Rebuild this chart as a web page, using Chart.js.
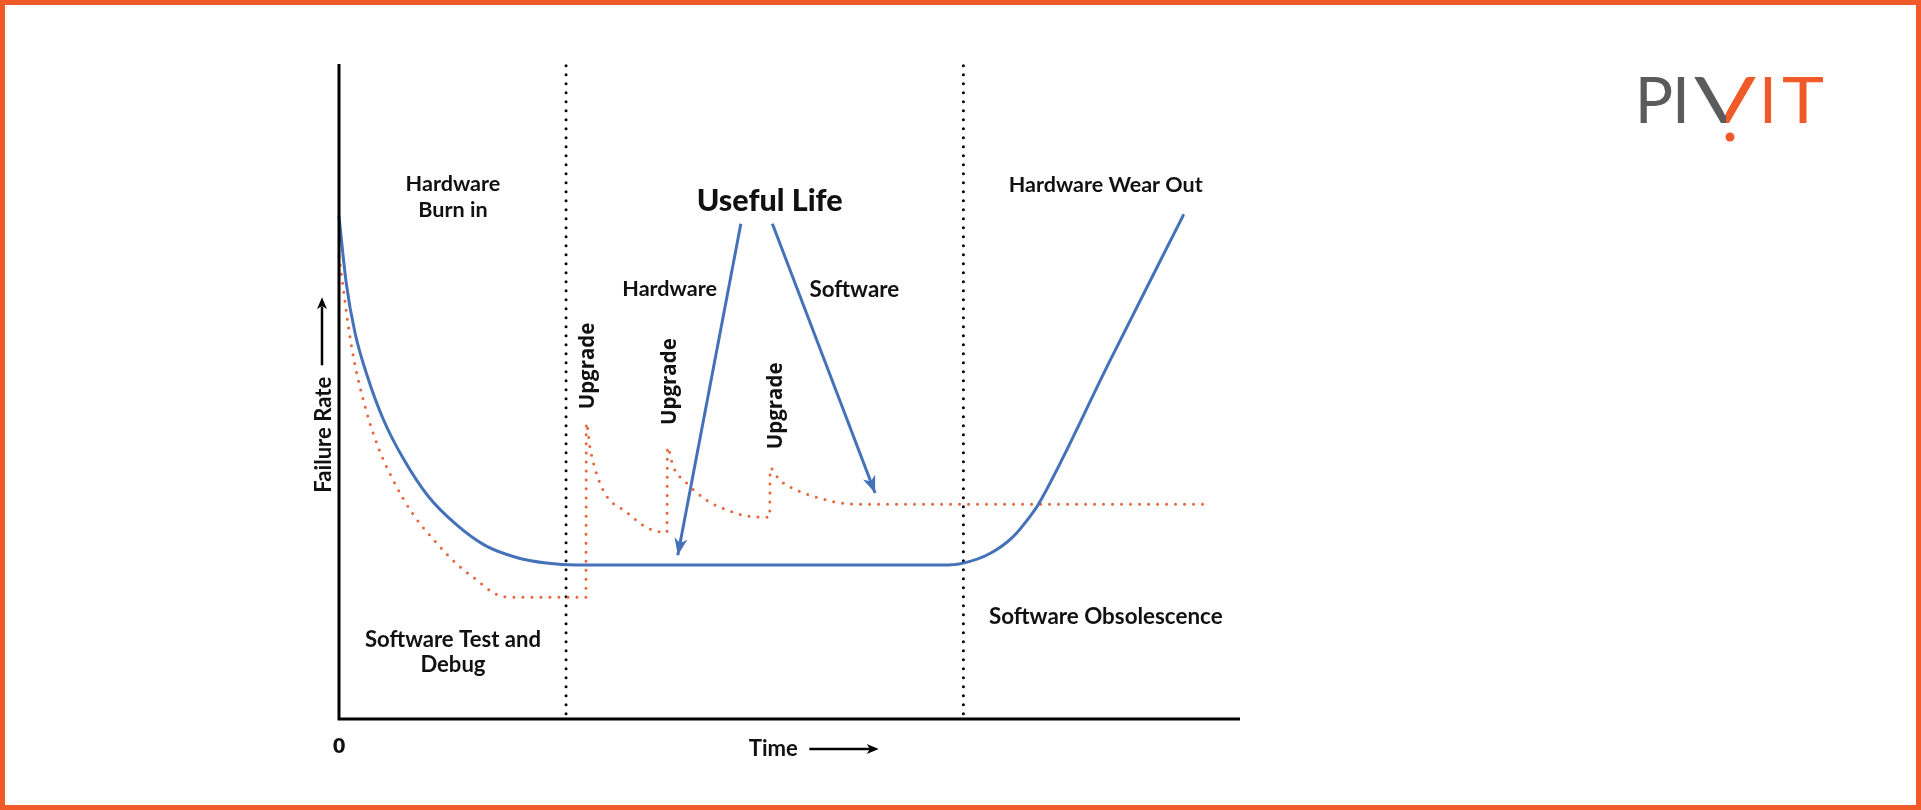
<!DOCTYPE html>
<html>
<head>
<meta charset="utf-8">
<title>Hardware vs Software Failure Rate</title>
<script src="https://cdn.jsdelivr.net/npm/chart.js@4.4.0/dist/chart.umd.min.js"></script>
<style>
  html, body { margin: 0; padding: 0; background: #fff; }
  #wrap { width: 1921px; height: 810px; }
</style>
</head>
<body>
<div id="wrap"><canvas id="bathtubChart" width="1921" height="810"></canvas></div>
<script>
// time runs 0..100 along the x axis, failure rate 0..100 up the y axis

// hardware failure rate (bathtub curve)
const hardwareTime = [0, 0.82, 1.77, 3.13, 4.9, 7.2, 9.9, 13.0, 16.2, 19.6, 23.0, 26.4,
  67.0, 69.3, 72.3, 74.8, 77.0, 77.6, 85.6, 93.7];
const hardwareRate = [76.7, 66.4, 59.0, 52.4, 45.8, 39.6, 34.0, 29.7, 26.5, 24.7, 23.8, 23.5,
  23.5, 23.8, 25.3, 27.8, 31.5, 32.7, 54.8, 76.9];

// software failure rate (with upgrade spikes)
const softwareTime = [0, 1.4, 3.1, 4.5, 6.0, 8.1, 11.2, 13.2, 15.3, 17.0, 18.2, 19.5, 27.4,
  27.45, 27.9, 29.3, 32.0, 34.2, 36.4,
  36.45, 37.1, 38.6, 40.8, 43.1, 45.3, 47.8,
  47.85, 48.9, 51.2, 53.4, 55.6, 58.0, 95.9];
const softwareRate = [70.6, 56.8, 46.7, 41.0, 36.5, 31.5, 26.3, 23.5, 21.2, 19.4, 18.7, 18.6, 18.6,
  45.2, 41.1, 35.0, 31.5, 29.2, 28.5,
  41.5, 38.5, 36.0, 33.4, 31.9, 31.0, 30.8,
  38.3, 36.5, 34.7, 33.7, 33.0, 32.8, 32.8];

// phase boundaries (dotted verticals)
const phaseBoundaries = [25.2, 69.3];
const phaseLineSpan = [0.8, 100];

// "Useful Life" pointers: start time, start rate, end time, end rate
const hardwarePointer = [44.6, 75.6, 37.6, 25.0];
const softwarePointer = [48.1, 75.6, 59.5, 34.5];

const BLUE = '#4571b9';
const ORANGE = '#e8643a';
const BRAND = '#f05a28';

const toPoints = (xs, ys) => xs.map((v, i) => ({ x: v, y: ys[i] }));

// text notes placed in data coordinates
const notes = [
  { lines: ['Hardware', 'Burn in'], x: 12.65, y: 79.7, width: 95, gap: 26, weight: 700, family: 'Lato' },
  { lines: ['Useful Life'], x: 47.8, y: 79.0, width: 146, gap: 0, weight: 900, family: 'Lato' },
  { lines: ['Hardware'], x: 36.7, y: 65.6, width: 95, gap: 0, weight: 700, family: 'Lato' },
  { lines: ['Software'], x: 57.2, y: 65.6, width: 90, gap: 0, weight: 700, family: 'Lato' },
  { lines: ['Hardware Wear Out'], x: 85.1, y: 81.5, width: 194, gap: 0, weight: 700, family: 'Lato' },
  { lines: ['Software Obsolescence'], x: 85.1, y: 15.6, width: 234, gap: 0, weight: 700, family: 'Lato' },
  { lines: ['Software Test and', 'Debug'], x: 12.65, y: 10.2, width: 176, gap: 25, weight: 700, family: 'Lato' }
];
const upgradeNotes = [
  { x: 27.6, y: 53.9 },
  { x: 36.7, y: 51.5 },
  { x: 48.5, y: 47.8 }
];

function fitFont(ctx, text, width, weight, family) {
  ctx.font = `${weight} 100px ${family}`;
  const size = 100 * width / ctx.measureText(text).width;
  return `${weight} ${size.toFixed(1)}px ${family}`;
}

function arrowHead(ctx, fx, fy, tx, ty, len, half, color) {
  const a = Math.atan2(ty - fy, tx - fx);
  ctx.save();
  ctx.translate(tx, ty);
  ctx.rotate(a);
  ctx.beginPath();
  ctx.moveTo(0, 0);
  ctx.lineTo(-len, -half);
  ctx.lineTo(-len * 0.72, 0);
  ctx.lineTo(-len, half);
  ctx.closePath();
  ctx.fillStyle = color;
  ctx.fill();
  ctx.restore();
}

// draws one letter centred on cx, stretched to the given width
function letter(ctx, ch, cx, base, width, color) {
  const w = ctx.measureText(ch).width;
  ctx.save();
  ctx.translate(cx, base);
  if (width) ctx.scale(width / w, 1);
  ctx.fillStyle = color;
  ctx.fillText(ch, 0, 0);
  ctx.restore();
}

function drawLogo(ctx) {
  const gray = '#5b5b5d';
  ctx.save();
  ctx.font = '400 64px Lato';
  ctx.textBaseline = 'alphabetic';
  ctx.textAlign = 'center';
  letter(ctx, 'P', 1654, 123, 0, gray);
  letter(ctx, 'I', 1681, 123, 0, gray);
  // the V: left arm gray, right arm orange
  letter(ctx, 'V', 1725, 123, 62, gray);
  ctx.save();
  ctx.beginPath();
  ctx.rect(1726, 60, 40, 80);
  ctx.clip();
  ctx.fillStyle = '#fff';
  ctx.fillRect(1726, 60, 40, 80);
  letter(ctx, 'V', 1725, 123, 62, BRAND);
  ctx.restore();
  ctx.beginPath();
  ctx.arc(1730, 137, 4.5, 0, Math.PI * 2);
  ctx.fillStyle = BRAND;
  ctx.fill();
  letter(ctx, 'I', 1768, 123, 0, BRAND);
  letter(ctx, 'T', 1803, 123, 42, BRAND);
  ctx.restore();
}

const decor = {
  id: 'decor',
  beforeDraw(chart) {
    const { ctx, width, height } = chart;
    ctx.save();
    ctx.fillStyle = '#fff';
    ctx.fillRect(0, 0, width, height);
    ctx.restore();
  },
  afterDatasetsDraw(chart) {
    const { ctx, width, height } = chart;
    const xs = chart.scales.x;
    const ys = chart.scales.y;
    const x0 = xs.getPixelForValue(0);
    const y0 = ys.getPixelForValue(0);

    ctx.save();
    // axes
    ctx.strokeStyle = '#000';
    ctx.lineWidth = 3;
    ctx.beginPath();
    ctx.moveTo(x0, ys.getPixelForValue(100));
    ctx.lineTo(x0, y0);
    ctx.lineTo(xs.getPixelForValue(100), y0);
    ctx.stroke();

    // pointer arrowheads
    [hardwarePointer, softwarePointer].forEach(p => {
      arrowHead(ctx, xs.getPixelForValue(p[0]), ys.getPixelForValue(p[1]),
        xs.getPixelForValue(p[2]), ys.getPixelForValue(p[3]), 17, 6.5, BLUE);
    });

    // notes
    ctx.fillStyle = '#111';
    ctx.textAlign = 'center';
    ctx.textBaseline = 'middle';
    notes.forEach(n => {
      const longest = n.lines.reduce((a, b) => (a.length >= b.length ? a : b));
      ctx.font = fitFont(ctx, longest, n.width, n.weight, n.family);
      const cx = xs.getPixelForValue(n.x);
      const cy = ys.getPixelForValue(n.y) - (n.lines.length - 1) * n.gap / 2;
      n.lines.forEach((t, i) => ctx.fillText(t, cx, cy + i * n.gap));
    });

    const upFont = fitFont(ctx, 'Upgrade', 87, 700, '"Open Sans"');
    upgradeNotes.forEach(u => {
      ctx.save();
      ctx.translate(xs.getPixelForValue(u.x), ys.getPixelForValue(u.y));
      ctx.rotate(-Math.PI / 2);
      ctx.font = upFont;
      ctx.fillText('Upgrade', 0, 0);
      ctx.restore();
    });

    // y axis title with arrow
    ctx.save();
    ctx.translate(x0 - 15, ys.getPixelForValue(43.4));
    ctx.rotate(-Math.PI / 2);
    ctx.font = fitFont(ctx, 'Failure Rate', 116, 700, 'Lato');
    ctx.fillText('Failure Rate', 0, 0);
    ctx.restore();
    ctx.strokeStyle = '#000';
    ctx.lineWidth = 2.5;
    ctx.beginPath();
    ctx.moveTo(x0 - 17, ys.getPixelForValue(54.0));
    ctx.lineTo(x0 - 17, ys.getPixelForValue(63.0));
    ctx.stroke();
    arrowHead(ctx, x0 - 17, ys.getPixelForValue(54.0), x0 - 17, ys.getPixelForValue(64.4), 12, 5, '#000');

    // x axis title with arrow
    ctx.font = fitFont(ctx, 'Time', 49, 700, 'Lato');
    ctx.fillText('Time', xs.getPixelForValue(48.2), y0 + 30);
    ctx.beginPath();
    ctx.moveTo(xs.getPixelForValue(52.2), y0 + 30);
    ctx.lineTo(xs.getPixelForValue(59.0), y0 + 30);
    ctx.stroke();
    arrowHead(ctx, xs.getPixelForValue(52.2), y0 + 30, xs.getPixelForValue(59.9), y0 + 30, 12, 5, '#000');

    // origin
    ctx.font = '800 21px Lato';
    ctx.fillText('0', x0, y0 + 27);

    drawLogo(ctx);

    // frame
    ctx.strokeStyle = BRAND;
    ctx.lineWidth = 5;
    ctx.strokeRect(2.5, 2.5, width - 5, height - 5);
    ctx.restore();
  }
};

const ctx = document.getElementById('bathtubChart').getContext('2d');

const bathtubChart = new Chart(ctx, {
  type: 'line',
  data: {
    datasets: [
      {
        label: 'Hardware',
        data: toPoints(hardwareTime, hardwareRate),
        borderColor: BLUE,
        borderWidth: 3,
        borderCapStyle: 'round',
        cubicInterpolationMode: 'monotone',
        pointRadius: 0,
        clip: false
      },
      {
        label: 'Software',
        data: toPoints(softwareTime, softwareRate),
        borderColor: ORANGE,
        borderWidth: 3,
        borderDash: [0, 9],
        borderCapStyle: 'round',
        cubicInterpolationMode: 'monotone',
        pointRadius: 0,
        clip: false
      },
      ...phaseBoundaries.map(b => ({
        label: 'Phase',
        data: toPoints([b, b], phaseLineSpan),
        borderColor: '#000',
        borderWidth: 3,
        borderDash: [0, 9],
        borderCapStyle: 'round',
        pointRadius: 0,
        clip: false
      })),
      ...[hardwarePointer, softwarePointer].map(p => ({
        label: 'Pointer',
        data: toPoints([p[0], p[2]], [p[1], p[3]]),
        borderColor: BLUE,
        borderWidth: 3,
        pointRadius: 0,
        clip: false
      }))
    ]
  },
  options: {
    responsive: false,
    animation: false,
    layout: {
      padding: { left: 339, top: 64, right: 681, bottom: 91 }
    },
    plugins: {
      legend: { display: false },
      tooltip: { enabled: false }
    },
    scales: {
      x: { type: 'linear', min: 0, max: 100, display: false },
      y: { min: 0, max: 100, display: false }
    }
  },
  plugins: [decor]
});
</script>
</body>
</html>
